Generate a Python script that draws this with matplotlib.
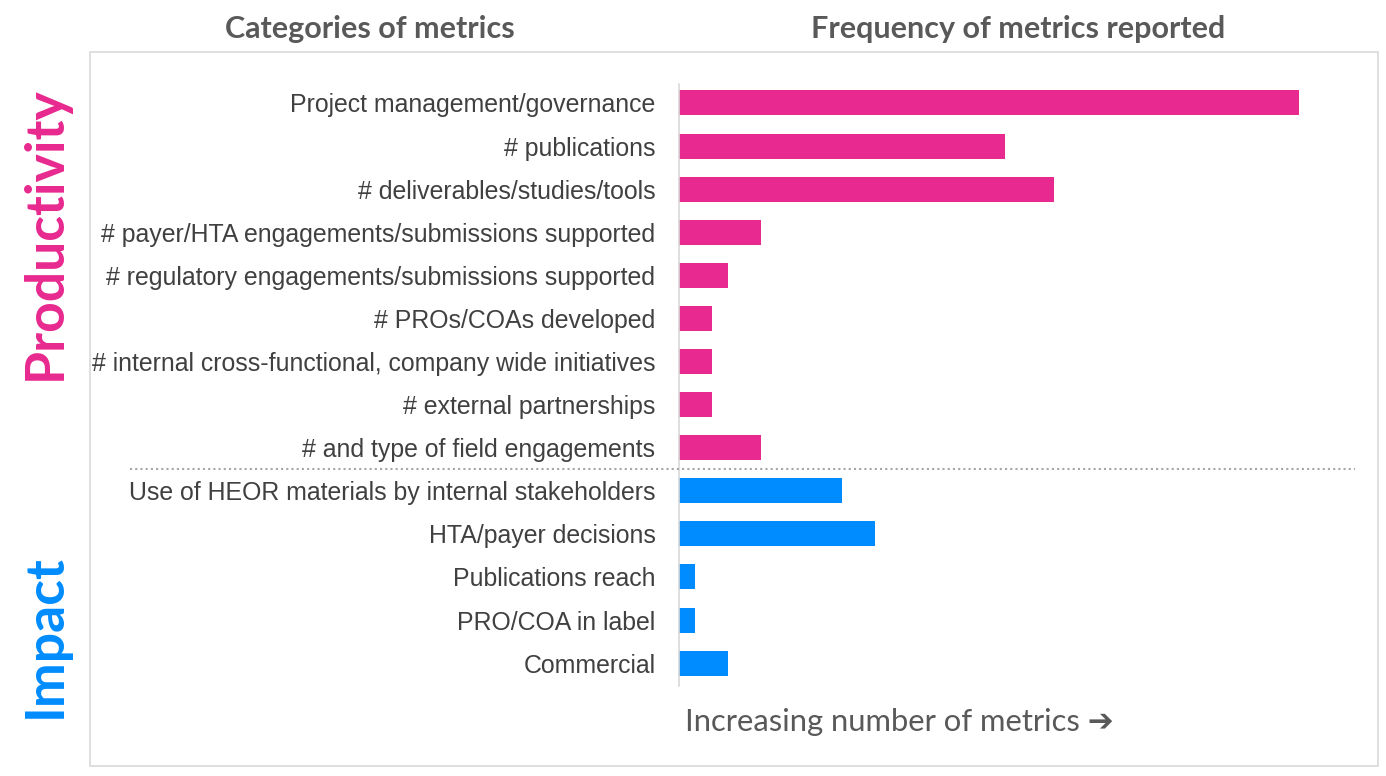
import matplotlib.pyplot as plt
from matplotlib.patches import Rectangle
from matplotlib.lines import Line2D

categories = [
    "Project management/governance",
    "# publications",
    "# deliverables/studies/tools",
    "# payer/HTA engagements/submissions supported",
    "# regulatory engagements/submissions supported",
    "# PROs/COAs developed",
    "# internal cross-functional, company wide initiatives",
    "# external partnerships",
    "# and type of field engagements",
    "Use of HEOR materials by internal stakeholders",
    "HTA/payer decisions",
    "Publications reach",
    "PRO/COA in label",
    "Commercial",
]
values = [38, 20, 23, 5, 3, 2, 2, 2, 5, 10, 12, 1, 1, 3]
groups = ["Productivity"] * 9 + ["Impact"] * 5

PINK = "#E8298F"
BLUE = "#008CFF"
GREY = "#595959"
colors = [PINK if g == "Productivity" else BLUE for g in groups]

W, H = 1386, 776
fig = plt.figure(figsize=(13.86, 7.76), dpi=100)

# outer frame
fig.patches.append(Rectangle((90 / W, 1 - 766 / H), (1378 - 90) / W, (766 - 52) / H,
                             transform=fig.transFigure, fill=False,
                             edgecolor="#d9d9d9", linewidth=1.2))

ax = fig.add_axes([679 / W, 1 - 686 / H, (1355 - 679) / W, (686 - 84) / H])
y = list(range(len(categories)))
ax.barh(y, values, height=0.58, color=colors)
ax.set_ylim(13.53, -0.44)
ax.set_xlim(0, 41.45)
ax.set_yticks(y)
ax.set_yticklabels(categories, fontsize=17.9, color="#404040", family="Liberation Sans")
ax.tick_params(axis="y", length=0, pad=17)
ax.set_xticks([])
for s in ["top", "right", "bottom"]:
    ax.spines[s].set_visible(False)
ax.spines["left"].set_color("#d9d9d9")
ax.spines["left"].set_linewidth(1.2)

# dotted separator between groups
sep_y = ax.transData.transform((0, 8.5))[1] / H
fig.add_artist(Line2D([130 / W, 1355 / W], [sep_y, sep_y], transform=fig.transFigure,
                      color="#a6a6a6", linestyle=(0, (1, 1.5)), linewidth=1.5))

fig.text(370 / W, 1 - 29 / H, "Categories of metrics", ha="center", va="center",
         fontsize=22, fontweight="bold", color=GREY, family="Lato")
fig.text(1018 / W, 1 - 29 / H, "Frequency of metrics reported", ha="center", va="center",
         fontsize=22, fontweight="bold", color=GREY, family="Lato")
fig.text(45 / W, 1 - 233 / H, "Productivity", rotation=90, ha="center", va="center",
         fontsize=38.5, fontweight="bold", color=PINK, family="Lato")
fig.text(45 / W, 1 - 636 / H, "Impact", rotation=90, ha="center", va="center",
         fontsize=38.5, fontweight="bold", color=BLUE, family="Lato")
fig.text(685 / W, 1 - 722 / H, "Increasing number of metrics \u2794", ha="left", va="center",
         fontsize=22.3, color=GREY, family=["Lato", "DejaVu Sans"])

fig.savefig("out.png", dpi=100)
